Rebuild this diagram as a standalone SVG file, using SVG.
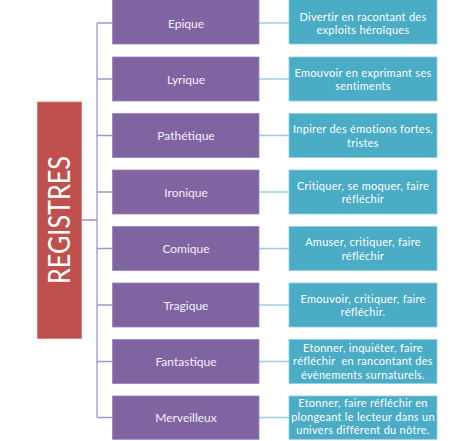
<svg xmlns="http://www.w3.org/2000/svg" width="474" height="441" viewBox="0 0 474 441">
<style>
.p{fill:#8064a2;stroke:#9a86b8;stroke-width:0.8}
.t{fill:#4bacc6;stroke:#8fd0e0;stroke-width:0.8}
.pl{font-family:Lato,"Open Sans",sans-serif;font-size:12px;fill:#f3eff8;text-anchor:middle}
.tl{font-family:Lato,"Open Sans",sans-serif;font-size:11px;letter-spacing:0.28px;fill:#ffffff;text-anchor:middle}
.cp{stroke:#a594c4;stroke-width:1.3;fill:none}
.ct{stroke:#96d0df;stroke-width:1.6;fill:none}
</style>
<rect width="474" height="441" fill="#ffffff"/>
<g id="connectors">
<path class="cp" d="M97 23V417.5M82 220H97M97 23H112M97 79H112M97 135.5H112M97 192H112M97 248.5H112M97 305H112M97 361.5H112M97 417.5H112"/>
<path class="ct" d="M259 23H289M259 79H289M259 135.5H289M259 192H289M259 248.5H289M259 305H289M259 361.5H289M259 417.5H289"/>
</g>
<g id="registres">
<rect x="37.5" y="102" width="44" height="236.5" fill="#c0504d" stroke="#d07a77" stroke-width="0.8"/>
<text transform="translate(70,220) rotate(-90)" font-family="Lato,'Open Sans',sans-serif" font-size="30" fill="#ffffff" text-anchor="middle" textLength="128" lengthAdjust="spacingAndGlyphs">REGISTRES</text>
</g>
<g id="epique"><rect class="p" x="112.5" y="-1" width="146.5" height="45"/><text class="pl" x="186" y="27.5">Epique</text></g>
<g id="epique-desc"><rect class="t" x="289" y="-1" width="148" height="45"/><text class="tl" x="363" y="20.5">Divertir en racontant des</text><text class="tl" x="363" y="34">exploits héroïques</text></g>
<g id="lyrique"><rect class="p" x="112.5" y="57" width="146.5" height="44"/><text class="pl" x="186" y="83.5">Lyrique</text></g>
<g id="lyrique-desc"><rect class="t" x="289" y="57" width="148" height="44"/><text class="tl" x="363" y="76.8">Emouvoir en exprimant ses</text><text class="tl" x="363" y="90.3">sentiments</text></g>
<g id="pathetique"><rect class="p" x="112.5" y="113.5" width="146.5" height="44"/><text class="pl" x="186" y="140">Pathétique</text></g>
<g id="pathetique-desc"><rect class="t" x="289" y="113.5" width="148" height="44"/><text class="tl" x="363" y="133.3">Inpirer des émotions fortes,</text><text class="tl" x="363" y="146.8">tristes</text></g>
<g id="ironique"><rect class="p" x="112.5" y="170" width="146.5" height="44"/><text class="pl" x="186" y="196.5">Ironique</text></g>
<g id="ironique-desc"><rect class="t" x="289" y="170" width="148" height="44"/><text class="tl" x="363" y="189.8">Critiquer, se moquer, faire</text><text class="tl" x="363" y="203.3">réfléchir</text></g>
<g id="comique"><rect class="p" x="112.5" y="226.5" width="146.5" height="44"/><text class="pl" x="186" y="253">Comique</text></g>
<g id="comique-desc"><rect class="t" x="289" y="226.5" width="148" height="44"/><text class="tl" x="363" y="246.3">Amuser, critiquer, faire</text><text class="tl" x="363" y="259.8">réfléchir</text></g>
<g id="tragique"><rect class="p" x="112.5" y="283" width="146.5" height="44"/><text class="pl" x="186" y="309.5">Tragique</text></g>
<g id="tragique-desc"><rect class="t" x="289" y="283" width="148" height="44"/><text class="tl" x="363" y="302.8">Emouvoir, critiquer, faire</text><text class="tl" x="363" y="316.3">réfléchir.</text></g>
<g id="fantastique"><rect class="p" x="112.5" y="339.5" width="146.5" height="44"/><text class="pl" x="186" y="366">Fantastique</text></g>
<g id="fantastique-desc"><rect class="t" x="289" y="339.5" width="148" height="44"/><text class="tl" x="363" y="351.6">Etonner, inquiéter, faire</text><text class="tl" x="363" y="365.1" xml:space="preserve">réfléchir  en rancontant des</text><text class="tl" x="363" y="378.6">évènements surnaturels.</text></g>
<g id="merveilleux"><rect class="p" x="112.5" y="396" width="146.5" height="43.3"/><text class="pl" x="186" y="422">Merveilleux</text></g>
<g id="merveilleux-desc"><rect class="t" x="289" y="396" width="148" height="43.3"/><text class="tl" x="363" y="407.3">Etonner, faire réfléchir en</text><text class="tl" x="363" y="420.8">plongeant le lecteur dans un</text><text class="tl" x="363" y="434.3">univers différent du nôtre.</text></g>
</svg>
